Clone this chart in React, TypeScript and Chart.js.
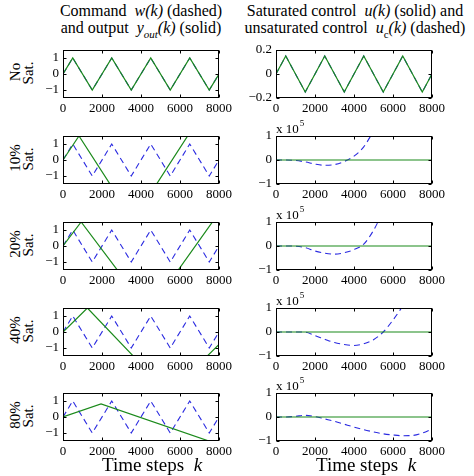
import React, { useEffect, useRef } from 'react';
import { Chart, registerables } from 'chart.js';

Chart.register(...registerables);

// ---------- data ----------
const kTicks = [0, 2000, 4000, 6000, 8000];

// command w(k): triangle wave
const wK = [0, 500, 1500, 2500, 3500, 4500, 5500, 6500, 7500, 8000];
const wVals = [0, 1, -1, 1, -1, 1, -1, 1, -1, 0];

// No saturation
const yNoSat = [0, 1, -1, 1, -1, 1, -1, 1, -1, 0];
const uNoSat = [0, 0.15, -0.15, 0.15, -0.15, 0.15, -0.15, 0.15, -0.15, 0];
const ucNoSat = [0, 0.15, -0.15, 0.15, -0.15, 0.15, -0.15, 0.15, -0.15, 0];

// outputs y_out(k) under saturation
const y10K = [0, 820, 3605, 8000];
const y10 = [0, 1.5, -3.76, 4.54];
const y20K = [0, 930, 4394, 8000];
const y20 = [0, 1.5, -4.1, 2.08];
const y40K = [0, 1250, 5440, 8000];
const y40 = [0, 1.5, -3.85, -0.78];
const y80K = [0, 1950, 8000];
const y80 = [0, 0.82, -1.72];

// saturated control u(k) (x 10^5)
const uSatK = [0, 8000];
const uSat = [0, 0];

// unsaturated control u_c(k) (x 10^5)
const uc10K = [0, 500, 1000, 1500, 2000, 2500, 3000, 3500, 4000, 4500, 5000];
const uc10 = [0, 0, -0.02, -0.08, -0.17, -0.22, -0.19, -0.06, 0.16, 0.55, 1.2];
const uc20K = [0, 500, 1000, 1500, 2000, 2500, 3000, 3500, 4000, 4500, 5000, 5500];
const uc20 = [0, 0, -0.01, -0.07, -0.21, -0.3, -0.34, -0.28, -0.15, 0.08, 0.65, 1.45];
const uc40K = [0, 500, 1000, 1500, 2000, 2500, 3000, 3500, 4000, 4500, 5000, 5500, 6000, 6500, 7000];
const uc40 = [0, 0, 0, -0.01, -0.15, -0.3, -0.44, -0.52, -0.56, -0.49, -0.32, 0, 0.5, 1.08, 1.7];
const uc80K = [0, 500, 1000, 1500, 2000, 2500, 3000, 3500, 4000, 4500, 5000, 5500, 6000, 6500, 7000, 7500, 8000];
const uc80 = [0, 0, 0.03, 0.07, 0.02, -0.08, -0.18, -0.3, -0.42, -0.53, -0.62, -0.7, -0.75, -0.78, -0.77, -0.67, -0.5];

const outTicks = [-1, 0, 1];
const uNoSatTicks = [-0.2, 0, 0.2];
const uSatTicks = [-1, 0, 1];

const rowLabels = [['No', 'Sat.'], ['10%', 'Sat.'], ['20%', 'Sat.'], ['40%', 'Sat.'], ['80%', 'Sat.']];

// ---------- styling / layout ----------
const GREEN = '#1b8a1b';
const BLUE = '#2a2ae0';
const FONT = '"Liberation Serif", "Times New Roman", serif';

const BOX_LEFT = [63, 276];
const BOX_TOP = [50, 136, 222, 308, 393];
const BOX_W = 156;
const BOX_H = 48;
const Y_W = 50;
const PAD_T = 18;
const PAD_R = 22;
const X_H = 20;

type Series = { k: number[]; v: number[]; dashed: boolean; smooth?: boolean };
type PanelDef = {
  row: number;
  col: number;
  series: Series[];
  yMin: number;
  yMax: number;
  yTicks: number[];
  exp: boolean;
};

const panels: PanelDef[] = [
  { row: 0, col: 0, yMin: -1.5, yMax: 1.5, yTicks: outTicks, exp: false,
    series: [{ k: wK, v: yNoSat, dashed: false }, { k: wK, v: wVals, dashed: true }] },
  { row: 0, col: 1, yMin: -0.2, yMax: 0.2, yTicks: uNoSatTicks, exp: false,
    series: [{ k: wK, v: uNoSat, dashed: false }, { k: wK, v: ucNoSat, dashed: true }] },
  { row: 1, col: 0, yMin: -1.5, yMax: 1.5, yTicks: outTicks, exp: false,
    series: [{ k: y10K, v: y10, dashed: false }, { k: wK, v: wVals, dashed: true }] },
  { row: 1, col: 1, yMin: -1, yMax: 1, yTicks: uSatTicks, exp: true,
    series: [{ k: uSatK, v: uSat, dashed: false }, { k: uc10K, v: uc10, dashed: true, smooth: true }] },
  { row: 2, col: 0, yMin: -1.5, yMax: 1.5, yTicks: outTicks, exp: false,
    series: [{ k: y20K, v: y20, dashed: false }, { k: wK, v: wVals, dashed: true }] },
  { row: 2, col: 1, yMin: -1, yMax: 1, yTicks: uSatTicks, exp: true,
    series: [{ k: uSatK, v: uSat, dashed: false }, { k: uc20K, v: uc20, dashed: true, smooth: true }] },
  { row: 3, col: 0, yMin: -1.5, yMax: 1.5, yTicks: outTicks, exp: false,
    series: [{ k: y40K, v: y40, dashed: false }, { k: wK, v: wVals, dashed: true }] },
  { row: 3, col: 1, yMin: -1, yMax: 1, yTicks: uSatTicks, exp: true,
    series: [{ k: uSatK, v: uSat, dashed: false }, { k: uc40K, v: uc40, dashed: true, smooth: true }] },
  { row: 4, col: 0, yMin: -1.5, yMax: 1.5, yTicks: outTicks, exp: false,
    series: [{ k: y80K, v: y80, dashed: false }, { k: wK, v: wVals, dashed: true }] },
  { row: 4, col: 1, yMin: -1, yMax: 1, yTicks: uSatTicks, exp: true,
    series: [{ k: uSatK, v: uSat, dashed: false }, { k: uc80K, v: uc80, dashed: true, smooth: true }] },
];

function fmt(v: number): string {
  if (v < 0) return '\u2212' + String(Math.abs(v));
  return String(v);
}

function makeFrame(exp: boolean) {
  return {
    id: 'frame',
    afterDatasetsDraw(chart: any) {
      const { ctx, chartArea: a, scales } = chart;
      ctx.save();
      ctx.strokeStyle = '#000';
      ctx.lineWidth = 1;
      const L = Math.round(a.left) + 0.5;
      const R = Math.round(a.right) - 0.5;
      const T = Math.round(a.top) + 0.5;
      const B = Math.round(a.bottom) - 0.5;
      ctx.strokeRect(L, T, R - L, B - T);
      const tl = 3;
      ctx.beginPath();
      for (const t of scales.x.ticks) {
        const x = Math.round(scales.x.getPixelForValue(t.value)) + 0.5;
        ctx.moveTo(x, B); ctx.lineTo(x, B - tl);
        ctx.moveTo(x, T); ctx.lineTo(x, T + tl);
      }
      for (const t of scales.y.ticks) {
        const y = Math.round(scales.y.getPixelForValue(t.value)) + 0.5;
        ctx.moveTo(L, y); ctx.lineTo(L + tl, y);
        ctx.moveTo(R, y); ctx.lineTo(R - tl, y);
      }
      ctx.stroke();
      if (exp) {
        ctx.fillStyle = '#000';
        ctx.textBaseline = 'alphabetic';
        ctx.textAlign = 'left';
        ctx.font = `13px ${FONT}`;
        ctx.fillText('x 10', a.left, a.top - 3);
        const w = ctx.measureText('x 10').width;
        ctx.font = `9px ${FONT}`;
        ctx.fillText('5', a.left + w + 1, a.top - 10);
      }
      ctx.restore();
    },
  };
}

function Panel({ def }: { def: PanelDef }) {
  const ref = useRef<HTMLCanvasElement | null>(null);
  const W = Y_W + BOX_W + PAD_R;
  const H = PAD_T + BOX_H + X_H;
  const left = BOX_LEFT[def.col] - Y_W;
  const top = BOX_TOP[def.row] - PAD_T;

  useEffect(() => {
    if (!ref.current) return;
    const tickFont = { family: FONT, size: 13 };
    const chart = new Chart(ref.current, {
      type: 'line',
      data: {
        datasets: def.series.map((s) => ({
          data: s.k.map((k, i) => ({ x: k, y: s.v[i] })),
          borderColor: s.dashed ? BLUE : GREEN,
          borderWidth: s.dashed ? 1.1 : 1.2,
          borderDash: s.dashed ? [6, 4] : [],
          pointRadius: 0,
          fill: false,
          tension: s.smooth ? 0.4 : 0,
          cubicInterpolationMode: s.smooth ? 'monotone' : 'default',
        })),
      },
      options: {
        responsive: false,
        animation: false,
        events: [],
        layout: { padding: { top: PAD_T, right: PAD_R, left: 0, bottom: 0 } },
        plugins: { legend: { display: false }, tooltip: { enabled: false } },
        scales: {
          x: {
            type: 'linear',
            min: 0,
            max: 8000,
            grid: { display: false, drawTicks: false },
            border: { display: false },
            ticks: {
              autoSkip: false,
              maxRotation: 0,
              padding: 3,
              color: '#000',
              font: tickFont,
              callback: (v: any) => fmt(Number(v)),
            },
            afterBuildTicks: (s: any) => { s.ticks = kTicks.map((v) => ({ value: v })); },
            afterFit: (s: any) => { s.height = X_H; },
          },
          y: {
            type: 'linear',
            min: def.yMin,
            max: def.yMax,
            grid: { display: false, drawTicks: false },
            border: { display: false },
            ticks: {
              autoSkip: false,
              padding: 4,
              color: '#000',
              font: tickFont,
              callback: (v: any) => fmt(Number(v)),
            },
            afterBuildTicks: (s: any) => { s.ticks = def.yTicks.map((v) => ({ value: v })); },
            afterFit: (s: any) => { s.width = Y_W; },
          },
        },
      },
      plugins: [makeFrame(def.exp)],
    } as any);
    return () => chart.destroy();
  }, [def]);

  return (
    <canvas
      ref={ref}
      width={W}
      height={H}
      style={{ position: 'absolute', left, top, width: W, height: H }}
    />
  );
}

function RotLine({ text, cx, cy }: { text: string; cx: number; cy: number }) {
  return (
    <div
      style={{
        position: 'absolute',
        left: cx,
        top: cy,
        transform: 'translate(-50%, -50%) rotate(-90deg)',
        fontSize: 15,
        lineHeight: '15px',
        whiteSpace: 'nowrap',
        fontFamily: FONT,
      }}
    >
      {text}
    </div>
  );
}

export default function App() {
  const sub: React.CSSProperties = { fontSize: 11, position: 'relative', top: 5 };
  return (
    <div
      style={{
        position: 'fixed',
        left: 0,
        top: 0,
        width: 474,
        height: 476,
        background: '#fff',
        fontFamily: FONT,
        color: '#000',
        overflow: 'hidden',
      }}
    >
      <div style={{ position: 'absolute', left: 0, width: 282, top: 2, textAlign: 'center', fontSize: 16, lineHeight: '17px', whiteSpace: 'pre' }}>
        <div>Command  <i>w(k)</i> (dashed)</div>
        <div>and output  <i>y</i><i style={sub}>out</i><i>(k)</i> (solid)</div>
      </div>
      <div style={{ position: 'absolute', left: 205, width: 300, top: 2, textAlign: 'center', fontSize: 16, lineHeight: '17px', whiteSpace: 'pre' }}>
        <div>Saturated control  <i>u(k)</i> (solid) and</div>
        <div>unsaturated control  <i>u</i><span style={sub}>c</span><i>(k)</i> (dashed)</div>
      </div>

      {rowLabels.map((lines, r) => (
        <React.Fragment key={r}>
          <RotLine text={lines[0]} cx={15} cy={BOX_TOP[r] + BOX_H / 2 - 2} />
          <RotLine text={lines[1]} cx={28} cy={BOX_TOP[r] + BOX_H / 2 - 1} />
        </React.Fragment>
      ))}

      {panels.map((p, i) => (
        <Panel key={i} def={p} />
      ))}

      <div style={{ position: 'absolute', left: 52, width: 200, top: 455, textAlign: 'center', fontSize: 19, lineHeight: '20px', whiteSpace: 'pre' }}>
        Time steps  <i>k</i>
      </div>
      <div style={{ position: 'absolute', left: 266, width: 200, top: 455, textAlign: 'center', fontSize: 19, lineHeight: '20px', whiteSpace: 'pre' }}>
        Time steps  <i>k</i>
      </div>
    </div>
  );
}
